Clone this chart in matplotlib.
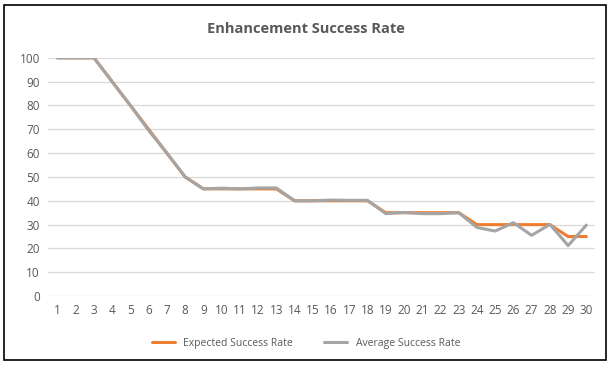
import matplotlib.pyplot as plt
from matplotlib.patches import Rectangle

# enhancement level 1..30
levels = list(range(1, 31))
expected = [100, 100, 100, 90, 80, 70, 60, 50, 45, 45,
            45, 45, 45, 40, 40, 40, 40, 40, 35, 35,
            35, 35, 35, 30, 30, 30, 30, 30, 25, 25]
average = [100, 100, 100, 90, 80, 69.5, 60, 50, 45, 45.3,
           45, 45.4, 45.4, 40, 40, 40.3, 40.2, 40.2, 34.6, 35.1,
           34.6, 34.6, 35, 28.8, 27.3, 30.8, 25.5, 30.1, 21.2, 29.8]

plt.rcParams['font.family'] = ['Open Sans', 'DejaVu Sans']
fig = plt.figure(figsize=(6.12, 3.66), dpi=100)
ax = fig.add_axes([0.079, 0.191, 0.894, 0.651])

ax.plot(levels, expected, color='#ED7D31', lw=2.2, label='Expected Success Rate', solid_capstyle='round')
ax.plot(levels, average, color='#A5A5A5', lw=2.2, label='Average Success Rate', solid_capstyle='round')

ax.set_xlim(0.5, 30.5)
ax.set_ylim(0, 100)
ax.set_yticks(range(0, 101, 10))
ax.set_xticks(levels)
ax.grid(axis='y', color='#D9D9D9', lw=0.9)
ax.set_axisbelow(True)
for s in ax.spines.values():
    s.set_visible(False)
ax.tick_params(length=0, labelsize=8.5, colors='#595959', pad=6)

fig.text(0.5, 0.92, 'Enhancement Success Rate', ha='center', va='center',
         fontsize=10.5, fontweight='bold', color='#595959')
fig.legend(loc='center', bbox_to_anchor=(0.5, 0.062), ncol=2, frameon=False,
           fontsize=7.5, labelcolor='#595959', handlelength=2.2, columnspacing=3)

# outer border
fig.add_artist(Rectangle((0.007, 0.016), 0.983, 0.97, transform=fig.transFigure,
                         fill=False, edgecolor='black', lw=1.2))

plt.savefig('out.png', dpi=100)
